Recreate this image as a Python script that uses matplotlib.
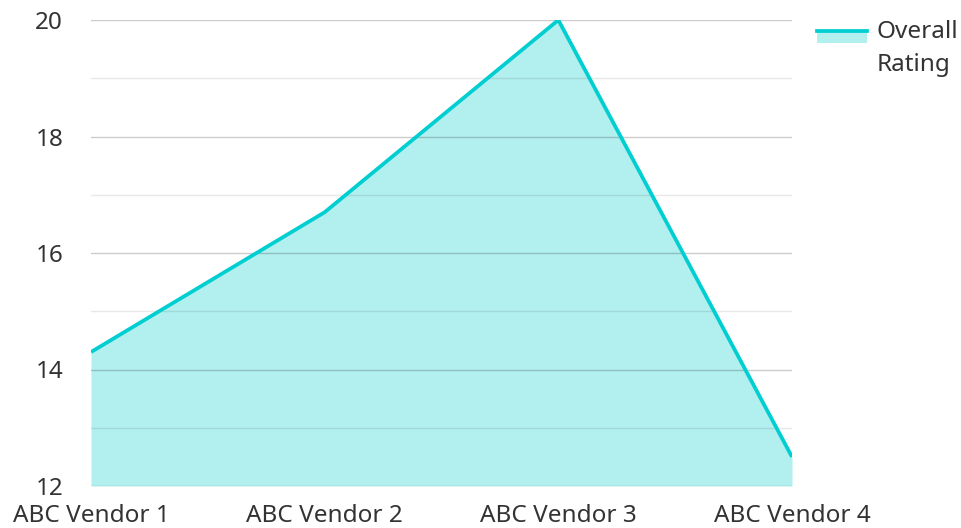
import matplotlib.pyplot as plt
from matplotlib.patches import Rectangle
from matplotlib.lines import Line2D

plt.rcParams['font.family'] = ['Noto Sans', 'DejaVu Sans']

# data
vendors = ["ABC Vendor 1", "ABC Vendor 2", "ABC Vendor 3", "ABC Vendor 4"]
rating = [14.3, 16.7, 20.0, 12.5]
yticks = [12, 14, 16, 18, 20]
yminor = [13, 15, 17, 19]

line_col = '#00CED1'
fill_col = '#B2EFEF'
text_col = '#333333'
fs = 17.5

fig = plt.figure(figsize=(9.62, 5.28), dpi=100)
ax = fig.add_axes([91/962, 42/528, 701/962, 466/528])

x = list(range(len(vendors)))
ax.fill_between(x, rating, 12, color=fill_col, lw=0, zorder=1)
ax.plot(x, rating, color=line_col, lw=2.7, zorder=3, solid_capstyle='butt')

ax.set_xlim(0, 3)
ax.set_ylim(12, 20)
ax.set_yticks(yticks)
ax.set_yticks(yminor, minor=True)
ax.set_xticks(x)
ax.set_xticklabels(vendors)
# semi-transparent grid so it shows through the fill
ax.grid(axis='y', which='major', color='black', alpha=0.2, lw=1, zorder=2)
ax.grid(axis='y', which='minor', color='black', alpha=0.09, lw=1, zorder=2)
ax.set_axisbelow(False)
for s in ax.spines.values():
    s.set_visible(False)
ax.tick_params(axis='both', which='both', length=0, labelsize=fs, labelcolor=text_col)
ax.tick_params(axis='y', pad=20)
ax.tick_params(axis='x', pad=13)

# legend drawn by hand
fig.add_artist(Rectangle((817/962, 1-43/528), 50/962, 13/528, transform=fig.transFigure,
                         color=fill_col, lw=0))
fig.add_artist(Line2D([817/962, 867/962], [1-31/528, 1-31/528], transform=fig.transFigure,
                      color=line_col, lw=2.7))
fig.text(877/962, 1-32/528, "Overall", fontsize=fs, color=text_col, va='center', ha='left')
fig.text(877/962, 1-65/528, "Rating", fontsize=fs, color=text_col, va='center', ha='left')

fig.savefig('out.png', dpi=100)
